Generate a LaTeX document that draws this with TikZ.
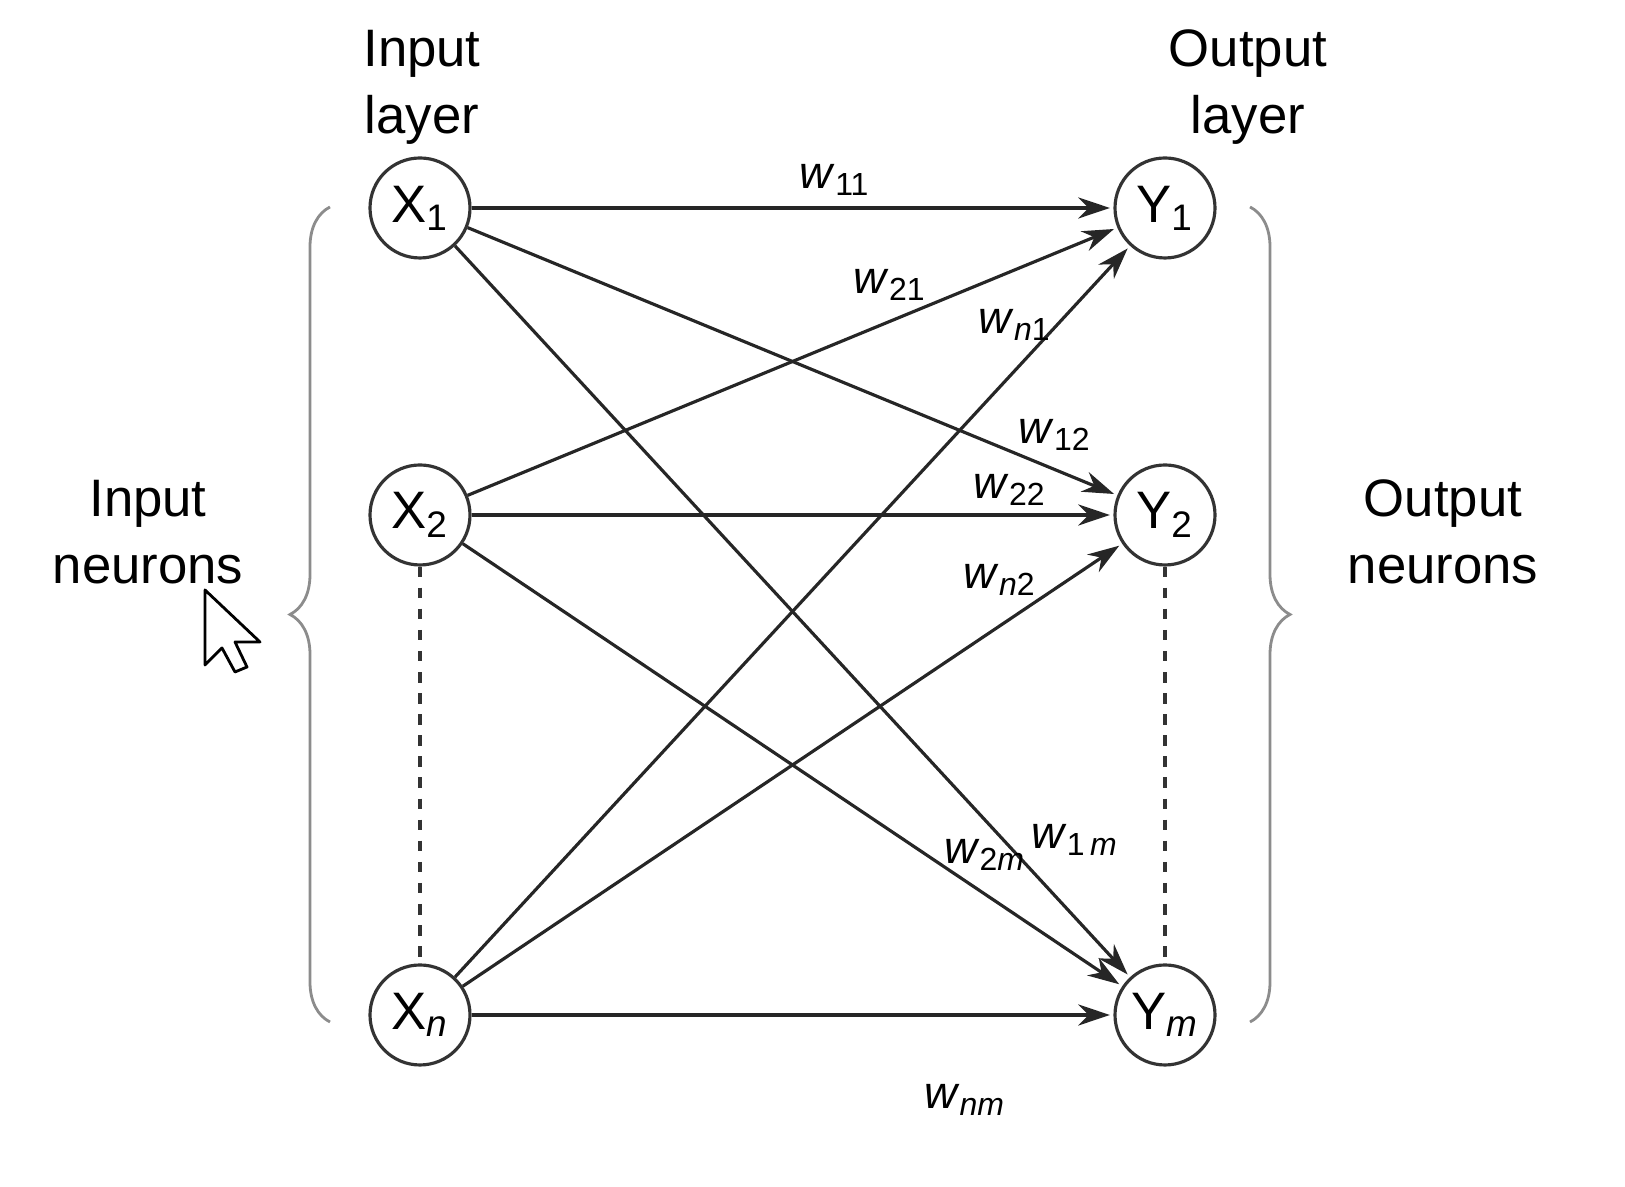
\documentclass[tikz,border=0pt]{standalone}
\usepackage{fontspec}
\setmainfont{Liberation Sans}
\usetikzlibrary{arrows.meta,decorations.pathreplacing}
\begin{document}
\begin{tikzpicture}[
  neuron/.style={circle,draw=black!80,line width=0.9pt,minimum size=1cm,inner sep=0pt,font=\fontsize{15}{17}\selectfont},
  conn/.style={draw=black!85,line width=0.9pt,-{Stealth[length=9pt,width=6pt]},shorten >=1pt},
  wl/.style={font=\fontsize{13}{15}\selectfont},
  ttl/.style={align=center,font=\fontsize{15}{19}\selectfont},
  brc/.style={draw=black!45,line width=0.8pt,decorate,decoration={brace,amplitude=0.4cm}},
  dsh/.style={draw=black!80,line width=0.9pt,dashed}
]
\useasboundingbox (0,0) rectangle (16.25,11.87);
\node[neuron] (x1) at (4.20,9.79) {X\textsubscript{1}};
\node[neuron] (x2) at (4.20,6.72) {X\textsubscript{2}};
\node[neuron] (xn) at (4.20,1.72) {X\textsubscript{\textit{n}}};
\node[neuron] (y1) at (11.65,9.79) {Y\textsubscript{1}};
\node[neuron] (y2) at (11.65,6.72) {Y\textsubscript{2}};
\node[neuron] (ym) at (11.65,1.72) {Y\textsubscript{\textit{m}}};
\node[ttl] (til) at (4.22,11.0) {Input\\layer};
\node[ttl] (tol) at (12.48,11.0) {Output\\layer};
\node[ttl] (tin) at (1.48,6.55) {Input\\neurons};
\node[ttl] (ton) at (14.43,6.55) {Output\\neurons};
\foreach \a in {x1,x2,xn}{\foreach \b in {y1,y2,ym}{\draw[conn] (\a) -- (\b);}}
\draw[dsh] (x2) -- (xn);
\draw[dsh] (y2) -- (ym);
\coordinate (lb1) at (3.3,1.65); \coordinate (lb2) at (3.3,9.8);
\coordinate (rb1) at (12.5,9.8); \coordinate (rb2) at (12.5,1.65);
\draw[brc] (lb1) -- (lb2);
\draw[brc] (rb1) -- (rb2);
\node[wl] (w11) at (8.35,10.07) {\textit{w}\textsubscript{11}};
\node[wl] (w21) at (8.9,9.02) {\textit{w}\textsubscript{21}};
\node[wl] (wn1) at (10.15,8.62) {\textit{w}\textsubscript{\textit{n}1}};
\node[wl] (w12) at (10.55,7.52) {\textit{w}\textsubscript{12}};
\node[wl] (w22) at (10.1,6.97) {\textit{w}\textsubscript{22}};
\node[wl] (wn2) at (10.0,6.07) {\textit{w}\textsubscript{\textit{n}2}};
\node[wl] (w1m) at (10.75,3.47) {\textit{w}\textsubscript{1\,\textit{m}}};
\node[wl] (w2m) at (9.85,3.32) {\textit{w}\textsubscript{2\textit{m}}};
\node[wl] (wnm) at (9.65,0.87) {\textit{w}\textsubscript{\textit{nm}}};
\draw[fill=white,draw=black,line width=0.8pt,line join=round] (2.05,5.97) -- (2.05,5.22) -- (2.22,5.39) -- (2.35,5.15) -- (2.47,5.20) -- (2.35,5.45) -- (2.60,5.45) -- cycle;
\end{tikzpicture}
\end{document}
